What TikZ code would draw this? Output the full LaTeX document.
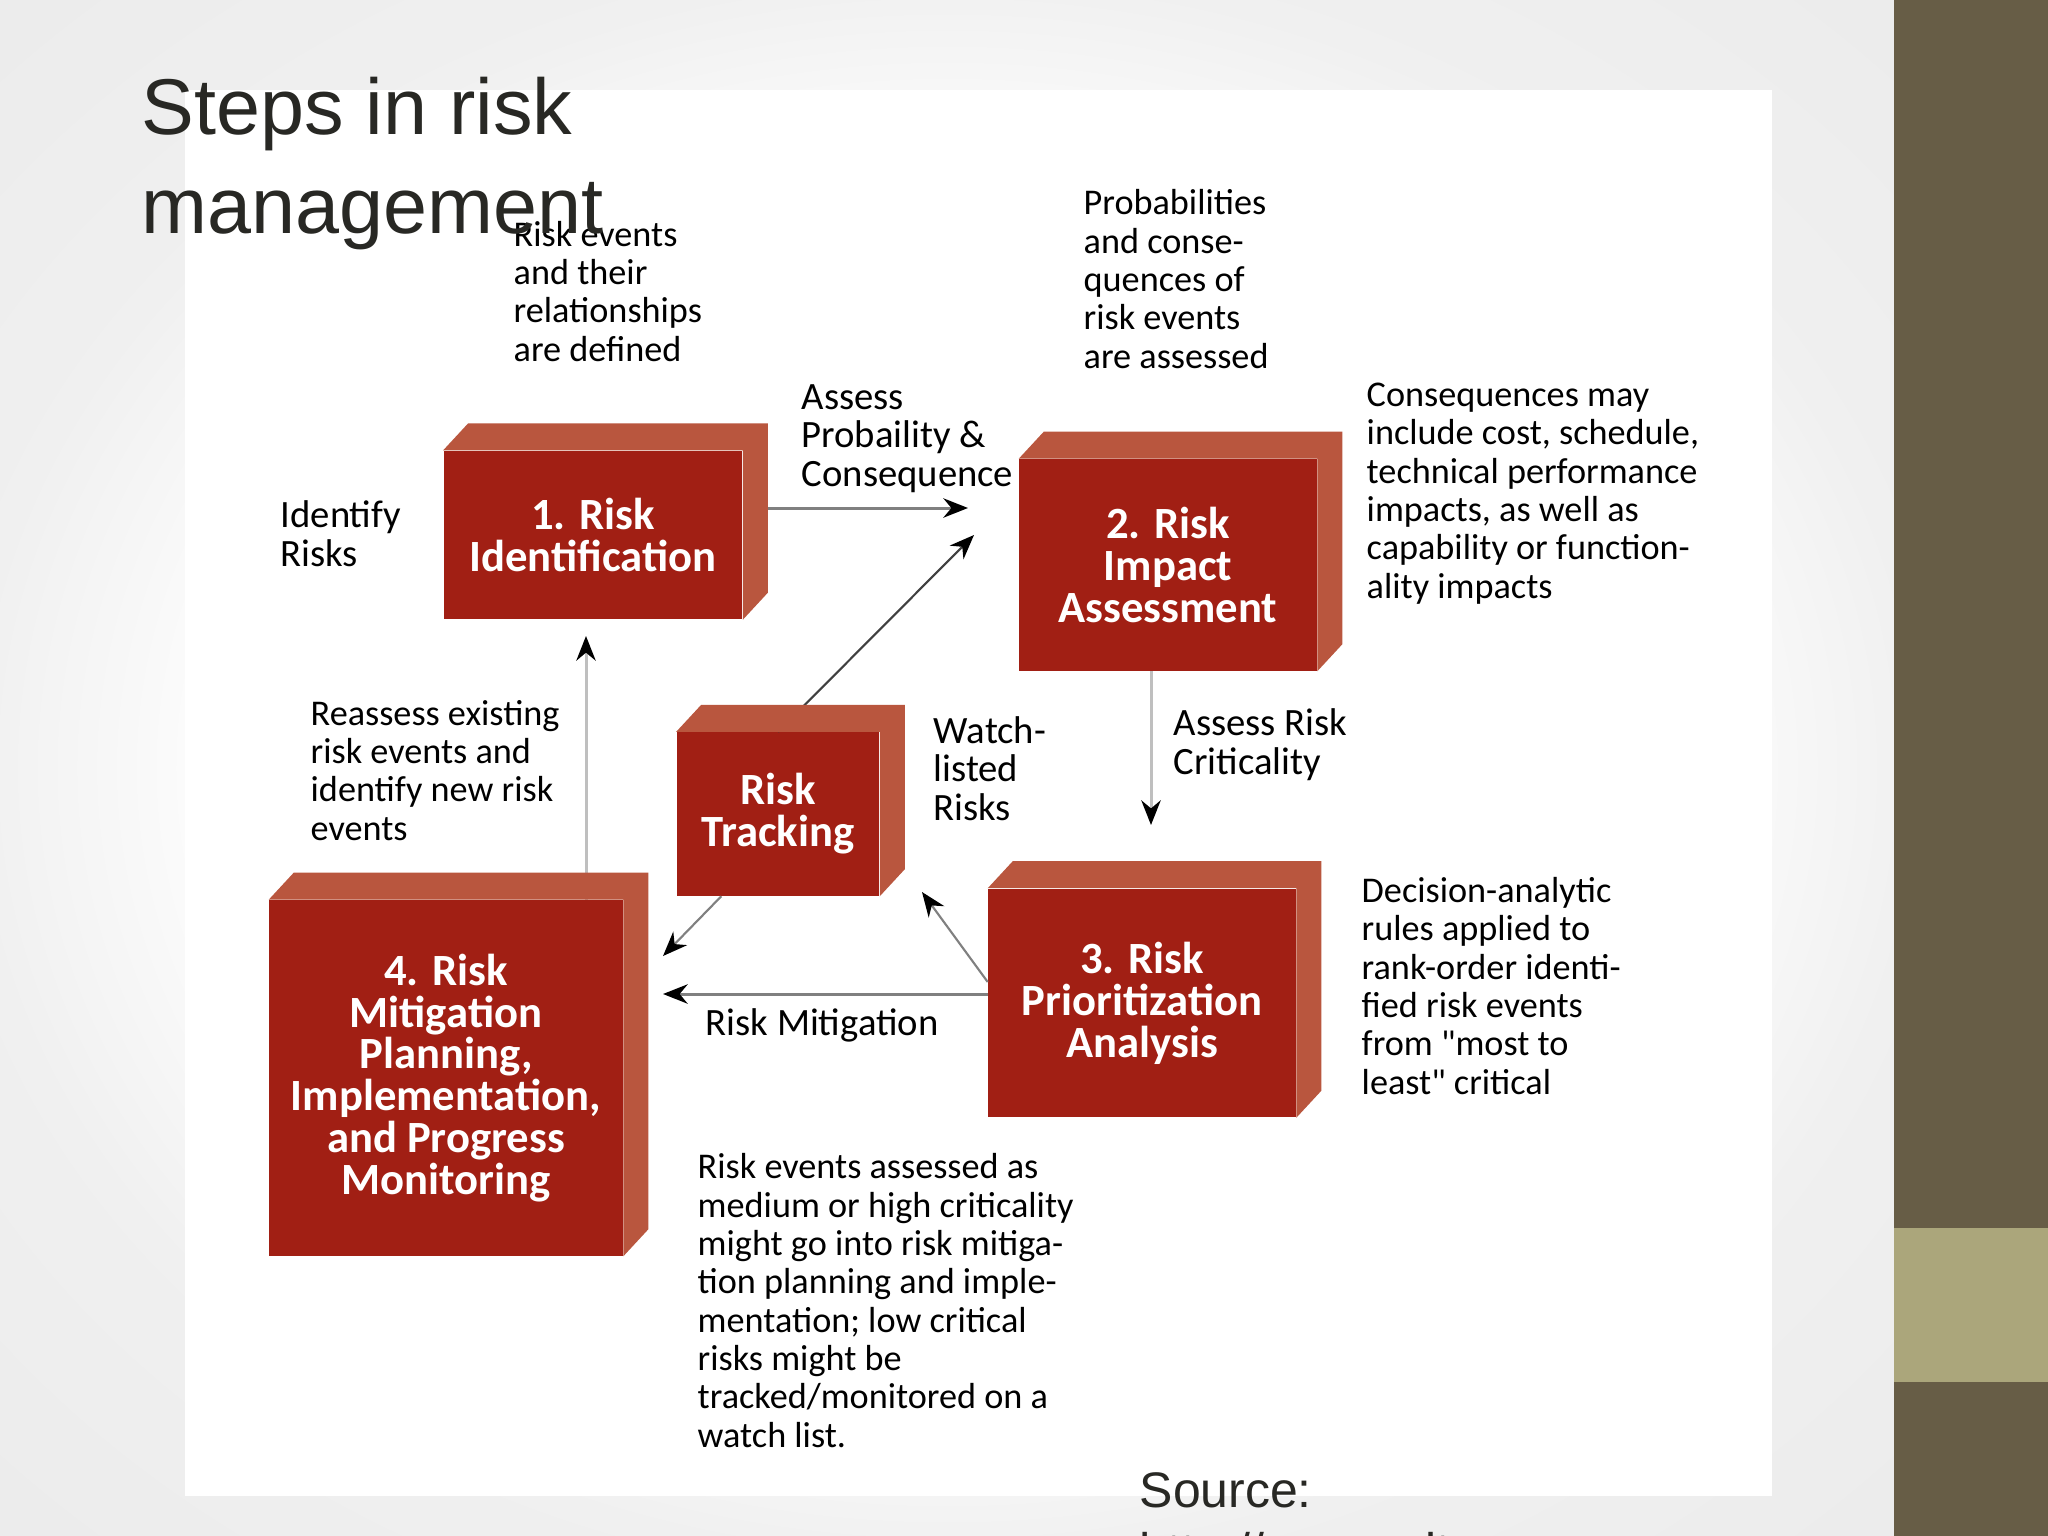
\documentclass[tikz,border=0pt]{standalone}
\usepackage{fontspec}
\setmainfont{Liberation Sans}
\newfontfamily\diagfont{Carlito}
\usetikzlibrary{arrows.meta,calc}
\definecolor{stepred}{RGB}{161,31,20}
\definecolor{stepside}{RGB}{185,86,62}
\definecolor{banddark}{RGB}{103,93,70}
\definecolor{bandlight}{RGB}{171,166,123}
\definecolor{titlegray}{RGB}{40,40,36}
\pgfdeclareradialshading{slidebg}{\pgfpoint{0bp}{0bp}}{color(0bp)=(white); color(18bp)=(white); color(26bp)=(black!6); color(50bp)=(black!10)}
\tikzset{
  stepbox/.style={rectangle, fill=stepred, text=white, align=center, inner sep=0pt,
    font=\diagfont\bfseries\fontsize{12.7}{11.9}\selectfont},
  note/.style={anchor=base west, align=left, inner sep=0pt,
    font=\diagfont\fontsize{10.3}{10.9}\selectfont},
  lbl/.style={note, font=\diagfont\fontsize{11}{10.9}\selectfont},
  flow/.style={draw=gray, line width=0.85pt, -{Stealth[length=7pt,width=5.5pt,black]}},
}
\newcommand{\extrude}[1]{\fill[stepside] (#1.north west) -- ++(25,-27)
  -- ($(#1.north east)+(25,-27)$) -- ($(#1.south east)+(25,-27)$)
  -- (#1.south east) -- (#1.north east) -- cycle;}
\begin{document}
\begin{tikzpicture}[x=0.01cm, y=-0.01cm]
\useasboundingbox (0,0) rectangle (2048,1536);
\shade[shading=slidebg] (0,0) rectangle (1894,1536);
\fill[white] (185,90) rectangle (1772,1496);
\fill[banddark] (1894,0) rectangle (2048,1536);
\fill[bandlight] (1894,1228) rectangle (2048,1382);

\node[stepbox, minimum width=2.98cm, minimum height=1.68cm] (s1) at (593,535) {1. Risk\\Identification};
\node[stepbox, minimum width=2.97cm, minimum height=2.11cm] (s2) at (1168,565) {2. Risk\\Impact\\Assessment};
\node[stepbox, minimum width=3.07cm, minimum height=2.28cm] (s3) at (1142,1003) {3. Risk\\Prioritization\\Analysis};
\node[stepbox, minimum width=3.53cm, minimum height=3.55cm] (s4) at (446,1078) {4. Risk\\Mitigation\\Planning,\\Implementation,\\and Progress\\Monitoring};
\node[stepbox, minimum width=2.02cm, minimum height=1.63cm] (st) at (778,814) {Risk\\Tracking};

\coordinate (tAssess) at (968,508);
\coordinate (tTrack) at (974,535);
\coordinate (tCrit) at (1151,825);
\coordinate (tWatch) at (922,892);
\coordinate (tMit) at (663,994);
\coordinate (tPlan) at (663,956);
\coordinate (tIdent) at (586,636);

\draw[flow] (s1.east |- tAssess) -- (tAssess);
\draw[flow, draw=darkgray, line width=0.6pt] (st.north) -- (tTrack);
\draw[flow, draw=lightgray] (s2.south -| tCrit) -- (tCrit);
\draw[flow] (s3.west |- tMit) -- (tMit);
\draw[flow, line width=0.6pt] ([yshift=0.21cm]s3.west) -- (tWatch);
\draw[flow, line width=0.6pt] ([xshift=0.45cm]st.south west) -- (tPlan);
\draw[flow, draw=lightgray] (s4.north -| tIdent) -- (tIdent);

\extrude{s1}
\extrude{s2}
\extrude{s3}
\extrude{s4}
\extrude{st}

\node[note] (nEvents) at (513,361) {Risk events\\and their\\relationships\\are defined};
\node[note] (nProb) at (1083,368) {Probabilities\\and conse-\\quences of\\risk events\\are assessed};
\node[lbl] (lAssess) at (801,486) {Assess\\Probaility \&\\Consequence};
\node[note] (nCons) at (1366,598) {Consequences may\\include cost, schedule,\\technical performance\\impacts, as well as\\capability or function-\\ality impacts};
\node[lbl] (lIdent) at (280,566) {Identify\\Risks};
\node[note] (nReassess) at (310,840) {Reassess existing\\risk events and\\identify new risk\\events};
\node[lbl] (lWatch) at (933,820) {Watch-\\listed\\Risks};
\node[lbl] (lCrit) at (1173,774) {Assess Risk\\Criticality};
\node[note] (nDecision) at (1361,1094) {Decision-analytic\\rules applied to\\rank-order identi-\\fied risk events\\from "most to\\least" critical};
\node[lbl] (lMit) at (705,1035) {Risk Mitigation};
\node[note] (nMitig) at (697,1447) {Risk events assessed as\\medium or high criticality\\might go into risk mitiga-\\tion planning and imple-\\mentation; low critical\\risks might be\\tracked/monitored on a\\watch list.};

\node[anchor=base west, align=left, inner sep=0pt, text=titlegray, font=\fontsize{22.5}{27.9}\selectfont] (title) at (141,233) {Steps in risk\\management};
\node[anchor=base west, align=left, inner sep=0pt, text=titlegray, font=\fontsize{14.2}{17.1}\selectfont] (source) at (1139,1568) {Source:\\http://www.mitre.org};
\end{tikzpicture}
\end{document}
